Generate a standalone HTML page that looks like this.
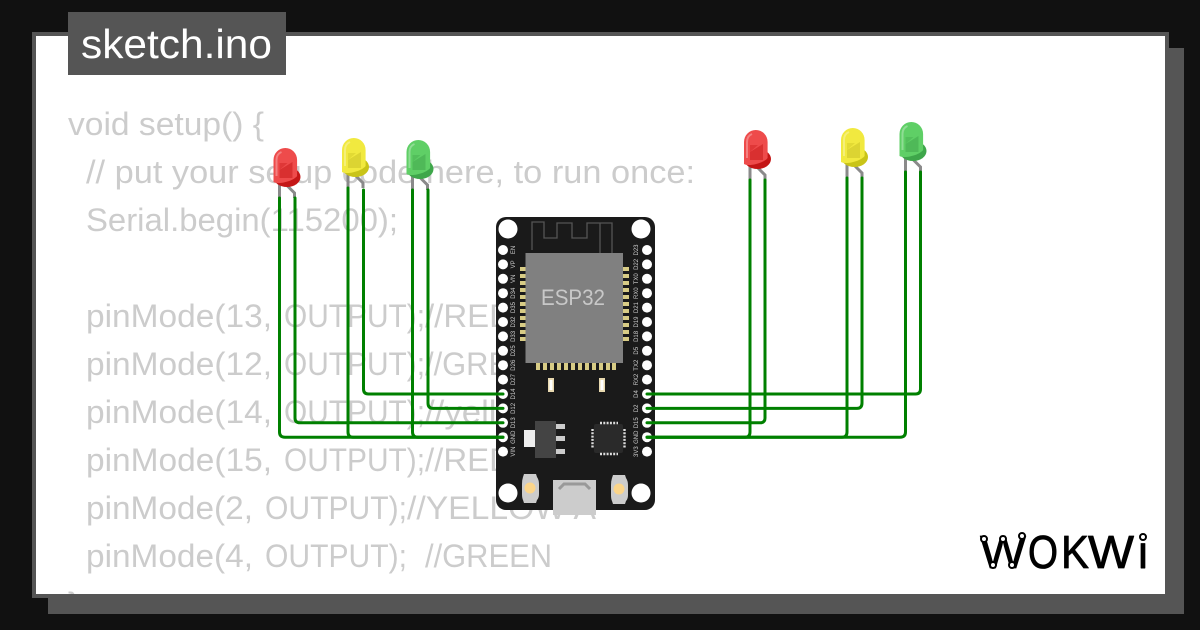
<!DOCTYPE html>
<html><head><meta charset="utf-8"><style>
html,body{margin:0;padding:0;background:#111;width:1200px;height:630px;overflow:hidden}
svg{display:block}
.code{font-family:"Liberation Sans",sans-serif;font-size:32px;fill:#ccc}
.pl{font-family:"Liberation Sans",sans-serif;font-size:6px;fill:#ccc;text-anchor:middle}
.w{fill:none;stroke:#008000;stroke-width:3;stroke-linecap:round}
.lg{font-family:"Liberation Sans",sans-serif;font-size:46px;fill:#000;stroke:#000;stroke-width:.8;stroke-linejoin:round}
</style></head><body>
<svg width="1200" height="630" viewBox="0 0 1200 630" xmlns="http://www.w3.org/2000/svg">
<defs>
<clipPath id="cp"><rect x="36" y="36" width="1129" height="558"/></clipPath>
<g id="led">
<path d="M0,-14V0M8,-12L15,-5V0" fill="none" stroke="#8a8a8a" stroke-width="3"/>
<ellipse cx="7.5" cy="-21" rx="13.5" ry="10" style="fill:var(--b)"/>
<path d="M-6,-16 V-38 A11.8,12 0 0 1 17.6,-38 V-22 C14,-17 -1,-13 -6,-16Z" style="fill:var(--a)"/>
<path d="M0,-28 L0,-35 H8 Z" style="fill:var(--c)" opacity=".75"/>
<path d="M0,-28 L13,-36 V-20 H0Z" style="fill:var(--c)"/>
<path d="M-3,-22 V-38 Q-3,-44 2,-46" fill="none" stroke="#fff" stroke-opacity=".3" stroke-width="2"/>
</g>
</defs>
<rect width="1200" height="630" fill="#111"/>
<rect x="48" y="48" width="1136" height="566" fill="#555"/>
<rect x="32" y="32" width="1137" height="566" fill="#555"/>
<rect x="36" y="36" width="1129" height="558" fill="#fff"/>
<g clip-path="url(#cp)" class="code">
<text x="68" y="135" textLength="196" lengthAdjust="spacingAndGlyphs">void setup() {</text>
<text x="86" y="183" textLength="609" lengthAdjust="spacingAndGlyphs">// put your setup code here, to run once:</text>
<text x="86" y="231" textLength="312" lengthAdjust="spacingAndGlyphs">Serial.begin(115200);</text>

<text x="86" y="327" textLength="186" lengthAdjust="spacingAndGlyphs">pinMode(13,</text>
<text x="284" y="327" textLength="141" lengthAdjust="spacingAndGlyphs">OUTPUT);</text>
<text x="425" y="327" textLength="88" lengthAdjust="spacingAndGlyphs">//RED</text>

<text x="86" y="375" textLength="186" lengthAdjust="spacingAndGlyphs">pinMode(12,</text>
<text x="284" y="375" textLength="141" lengthAdjust="spacingAndGlyphs">OUTPUT);</text>
<text x="425" y="375" textLength="127" lengthAdjust="spacingAndGlyphs">//GREEN</text>

<text x="86" y="423" textLength="186" lengthAdjust="spacingAndGlyphs">pinMode(14,</text>
<text x="284" y="423" textLength="141" lengthAdjust="spacingAndGlyphs">OUTPUT);</text>
<text x="425" y="423" textLength="116" lengthAdjust="spacingAndGlyphs">//yellow</text>

<text x="86" y="471" textLength="186" lengthAdjust="spacingAndGlyphs">pinMode(15,</text>
<text x="284" y="471" textLength="141" lengthAdjust="spacingAndGlyphs">OUTPUT);</text>
<text x="425" y="471" textLength="88" lengthAdjust="spacingAndGlyphs">//RED</text>

<text x="86" y="519" textLength="167" lengthAdjust="spacingAndGlyphs">pinMode(2,</text>
<text x="265" y="519" textLength="142" lengthAdjust="spacingAndGlyphs">OUTPUT);</text>
<text x="407" y="519" textLength="189" lengthAdjust="spacingAndGlyphs">//YELLOW A</text>

<text x="86" y="567" textLength="167" lengthAdjust="spacingAndGlyphs">pinMode(4,</text>
<text x="265" y="567" textLength="142" lengthAdjust="spacingAndGlyphs">OUTPUT);</text>
<text x="425" y="567" textLength="127" lengthAdjust="spacingAndGlyphs">//GREEN</text>
<text x="68" y="615">}</text>
</g>
<rect x="68" y="12" width="218" height="63" fill="#555"/>
<text x="81" y="58" font-family="'Liberation Sans',sans-serif" font-size="41" fill="#fff" textLength="191" lengthAdjust="spacingAndGlyphs">sketch.ino</text>

<!-- board -->
<rect x="496" y="217" width="159" height="293" rx="10" fill="#1a1a1a"/>
<path d="M532,250V222H544V238H557V223H572V238H587V223H612V253M600,223V253" fill="none" stroke="#555" stroke-width="1.3"/>
<g fill="#d8cc85">
<rect x="520" y="267" width="6" height="4"/><rect x="520" y="274" width="6" height="4"/><rect x="520" y="281" width="6" height="4"/><rect x="520" y="288" width="6" height="4"/><rect x="520" y="295" width="6" height="4"/><rect x="520" y="302" width="6" height="4"/><rect x="520" y="309" width="6" height="4"/><rect x="520" y="316" width="6" height="4"/><rect x="520" y="323" width="6" height="4"/><rect x="520" y="330" width="6" height="4"/><rect x="520" y="337" width="6" height="4"/>
<rect x="623" y="267" width="6" height="4"/><rect x="623" y="274" width="6" height="4"/><rect x="623" y="281" width="6" height="4"/><rect x="623" y="288" width="6" height="4"/><rect x="623" y="295" width="6" height="4"/><rect x="623" y="302" width="6" height="4"/><rect x="623" y="309" width="6" height="4"/><rect x="623" y="316" width="6" height="4"/><rect x="623" y="323" width="6" height="4"/><rect x="623" y="330" width="6" height="4"/><rect x="623" y="337" width="6" height="4"/>
<rect x="536" y="363" width="4" height="7"/><rect x="543" y="363" width="4" height="7"/><rect x="550" y="363" width="4" height="7"/><rect x="557" y="363" width="4" height="7"/><rect x="564" y="363" width="4" height="7"/><rect x="571" y="363" width="4" height="7"/><rect x="578" y="363" width="4" height="7"/><rect x="585" y="363" width="4" height="7"/><rect x="592" y="363" width="4" height="7"/><rect x="599" y="363" width="4" height="7"/><rect x="606" y="363" width="4" height="7"/><rect x="612" y="363" width="4" height="7"/>
</g>
<rect x="525.5" y="253" width="97.5" height="110" fill="#808080"/>
<text x="541" y="305" font-family="'Liberation Sans',sans-serif" font-size="22" fill="#c8c8c8" textLength="64" lengthAdjust="spacingAndGlyphs">ESP32</text>
<g fill="#fff">
<circle cx="508" cy="229" r="9.5"/><circle cx="641" cy="229" r="9.5"/><circle cx="508" cy="493" r="9.5"/><circle cx="641" cy="493" r="9.5"/>
<circle cx="503" cy="250" r="5"/><circle cx="503" cy="264.4" r="5"/><circle cx="503" cy="278.8" r="5"/><circle cx="503" cy="293.2" r="5"/><circle cx="503" cy="307.6" r="5"/><circle cx="503" cy="322" r="5"/><circle cx="503" cy="336.4" r="5"/><circle cx="503" cy="350.8" r="5"/><circle cx="503" cy="365.2" r="5"/><circle cx="503" cy="379.6" r="5"/><circle cx="503" cy="394" r="5"/><circle cx="503" cy="408.4" r="5"/><circle cx="503" cy="422.8" r="5"/><circle cx="503" cy="437.2" r="5"/><circle cx="503" cy="451.6" r="5"/>
<circle cx="647" cy="250" r="5"/><circle cx="647" cy="264.4" r="5"/><circle cx="647" cy="278.8" r="5"/><circle cx="647" cy="293.2" r="5"/><circle cx="647" cy="307.6" r="5"/><circle cx="647" cy="322" r="5"/><circle cx="647" cy="336.4" r="5"/><circle cx="647" cy="350.8" r="5"/><circle cx="647" cy="365.2" r="5"/><circle cx="647" cy="379.6" r="5"/><circle cx="647" cy="394" r="5"/><circle cx="647" cy="408.4" r="5"/><circle cx="647" cy="422.8" r="5"/><circle cx="647" cy="437.2" r="5"/><circle cx="647" cy="451.6" r="5"/>
</g>
<g class="pl">
<text transform="translate(515,250) rotate(-90)">EN</text><text transform="translate(515,264.4) rotate(-90)">VP</text><text transform="translate(515,278.8) rotate(-90)">VN</text><text transform="translate(515,293.2) rotate(-90)">D34</text><text transform="translate(515,307.6) rotate(-90)">D35</text><text transform="translate(515,322) rotate(-90)">D32</text><text transform="translate(515,336.4) rotate(-90)">D33</text><text transform="translate(515,350.8) rotate(-90)">D25</text><text transform="translate(515,365.2) rotate(-90)">D26</text><text transform="translate(515,379.6) rotate(-90)">D27</text><text transform="translate(515,394) rotate(-90)">D14</text><text transform="translate(515,408.4) rotate(-90)">D12</text><text transform="translate(515,422.8) rotate(-90)">D13</text><text transform="translate(515,437.2) rotate(-90)">GND</text><text transform="translate(515,451.6) rotate(-90)">VIN</text>
<text transform="translate(638,250) rotate(-90)">D23</text><text transform="translate(638,264.4) rotate(-90)">D22</text><text transform="translate(638,278.8) rotate(-90)">TX0</text><text transform="translate(638,293.2) rotate(-90)">RX0</text><text transform="translate(638,307.6) rotate(-90)">D21</text><text transform="translate(638,322) rotate(-90)">D19</text><text transform="translate(638,336.4) rotate(-90)">D18</text><text transform="translate(638,350.8) rotate(-90)">D5</text><text transform="translate(638,365.2) rotate(-90)">TX2</text><text transform="translate(638,379.6) rotate(-90)">RX2</text><text transform="translate(638,394) rotate(-90)">D4</text><text transform="translate(638,408.4) rotate(-90)">D2</text><text transform="translate(638,422.8) rotate(-90)">D15</text><text transform="translate(638,437.2) rotate(-90)">GND</text><text transform="translate(638,451.6) rotate(-90)">3V3</text>
</g>
<!-- small smd leds -->
<rect x="548" y="378" width="6" height="14" fill="#e8d9b0"/><rect x="549.5" y="380" width="3" height="10" fill="#fff"/>
<rect x="599" y="378" width="6" height="14" fill="#e8d9b0"/><rect x="600.5" y="380" width="3" height="10" fill="#fff"/>
<!-- regulator -->
<rect x="524" y="430" width="11" height="17" fill="#eee"/>
<rect x="535" y="421" width="21" height="37" fill="#444"/>
<rect x="556" y="424" width="9" height="5" fill="#ccc"/><rect x="556" y="436" width="9" height="5" fill="#ccc"/><rect x="556" y="449" width="9" height="5" fill="#ccc"/>
<!-- mcu -->
<rect x="594" y="424" width="29" height="29" rx="2" fill="#2a2a2a"/>
<path d="M600,423H618M600,454H618M592.5,429V448M624.5,429V448" fill="none" stroke="#ddd" stroke-width="2.4" stroke-dasharray="2 1.3"/>
<!-- buttons -->
<path d="M524,474H536L537,477Q539,480 539,484V494Q539,498 537,500L536,503H524L523,500Q522,498 522,494V484Q522,480 523,477Z" fill="#ccc"/><circle cx="530" cy="488" r="5.5" fill="#fbd58a"/>
<path d="M613,475H625L626,478Q628,481 628,485V495Q628,499 626,501L625,504H613L612,501Q611,499 611,495V485Q611,481 612,478Z" fill="#ccc"/><circle cx="619" cy="489" r="5.5" fill="#fbd58a"/>
<!-- usb -->
<rect x="553" y="480" width="43" height="35" fill="#ccc"/>
<path d="M559,489L564,484H585L590,489" fill="none" stroke="#999" stroke-width="3"/>

<!-- leds -->
<use href="#led" x="279.5" y="198" style="--a:#ee4b4b;--b:#c41616;--c:#d93030"/>
<use href="#led" x="348" y="188" style="--a:#f1e93f;--b:#c9c418;--c:#dcd432"/>
<use href="#led" x="412.5" y="190" style="--a:#5fcf66;--b:#3ea64a;--c:#4fb958"/>
<use href="#led" x="750" y="180" style="--a:#ee4b4b;--b:#c41616;--c:#d93030"/>
<use href="#led" x="847" y="178" style="--a:#f1e93f;--b:#c9c418;--c:#dcd432"/>
<use href="#led" x="905.5" y="172" style="--a:#5fcf66;--b:#3ea64a;--c:#4fb958"/>

<!-- wires -->
<g class="w">
<path d="M363.5,190V389Q363.5,394 368.5,394H503"/>
<path d="M428,190V403Q428,408.4 433,408.4H503"/>
<path d="M295,198V418Q295,422.8 300,422.8H503"/>
<path d="M279.5,198V432Q279.5,437.2 285,437.2H503"/>
<path d="M348,188V432Q348,437.2 353,437.2H503"/>
<path d="M412.5,190V432Q412.5,437.2 418,437.2H503"/>
<path d="M920.5,172V389Q920.5,394 915.5,394H647"/>
<path d="M862,178V403Q862,408.4 857,408.4H647"/>
<path d="M765,180V418Q765,422.8 760,422.8H647"/>
<path d="M750,180V432Q750,437.2 745,437.2H647"/>
<path d="M847,178V432Q847,437.2 842,437.2H647"/>
<path d="M905.5,172V432Q905.5,437.2 900,437.2H647"/>
</g>

<!-- logo -->
<g class="lg">
<text x="980" y="568" textLength="46" lengthAdjust="spacingAndGlyphs">W</text>
<text x="1028" y="568" textLength="30" lengthAdjust="spacingAndGlyphs">O</text>
<text x="1061" y="568" textLength="28" lengthAdjust="spacingAndGlyphs">K</text>
<text x="1088" y="568" textLength="46" lengthAdjust="spacingAndGlyphs">W</text>
<text x="1138" y="568" textLength="10" lengthAdjust="spacingAndGlyphs">i</text>
</g>
<g fill="#fff" stroke="#000" stroke-width="2">
<circle cx="984" cy="539" r="3"/><circle cx="1003" cy="539" r="3"/><circle cx="1022" cy="536" r="3"/><circle cx="993" cy="565" r="3"/><circle cx="1012" cy="565" r="3"/><circle cx="1143" cy="537" r="3"/>
</g>
</svg>
</body></html>
